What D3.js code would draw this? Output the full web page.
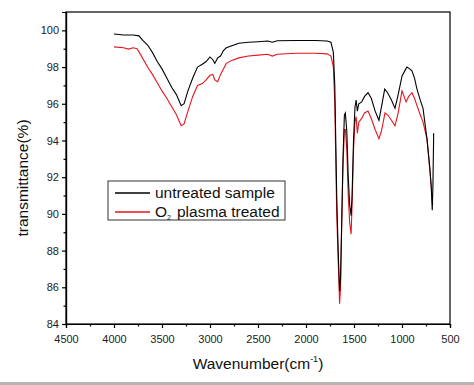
<!DOCTYPE html>
<html>
<head>
<meta charset="utf-8">
<script src="https://cdn.jsdelivr.net/npm/d3@7"></script>
<style>
body { margin: 0; background: #fff; }
svg { display: block; font-family: "Liberation Sans", Arial, sans-serif; }
</style>
</head>
<body>
<svg width="474" height="385"></svg>
<script>
// wavenumbers (cm-1) and transmittance (%)
var wUntreated = [4000,3900,3800,3740,3700,3650,3600,3550,3500,3450,3400,3350,3300,3270,3230,3180,3130,3080,3040,3000,2970,2950,2920,2890,2860,2830,2780,2700,2600,2500,2400,2350,2300,2100,1900,1780,1740,1715,1700,1690,1680,1665,1650,1640,1630,1615,1600,1590,1575,1560,1545,1530,1520,1505,1490,1478,1465,1450,1420,1390,1354,1320,1280,1240,1215,1180,1150,1110,1073,1040,1000,960,948,920,896,870,844,810,781,740,710,695,685,678,670];
var tUntreated = [99.8,99.75,99.75,99.7,99.45,99.2,98.8,98.3,97.9,97.4,96.9,96.5,95.9,96.0,96.7,97.4,98.0,98.15,98.3,98.55,98.4,98.2,98.5,98.6,98.9,99.05,99.15,99.3,99.35,99.38,99.42,99.35,99.43,99.45,99.45,99.42,99.35,98.8,97,94,91,88,85.8,86.5,89,93,95.4,95.5,94.5,92,90.5,89.9,91,94,95.8,96.2,95.6,96.0,96.1,96.4,96.6,96.3,95.6,95.1,95.8,96.8,96.6,96.2,95.75,96.5,97.5,97.9,98.0,97.9,97.8,97.4,96.8,96.2,95.75,94.1,92.5,91.4,90.2,91.5,94.4];

var wTreated = [4000,3900,3850,3800,3760,3720,3650,3600,3550,3500,3450,3400,3350,3300,3270,3230,3180,3130,3080,3040,3000,2970,2950,2920,2890,2860,2830,2780,2700,2600,2500,2400,2350,2300,2100,1900,1780,1740,1715,1700,1690,1680,1665,1650,1640,1630,1615,1600,1590,1575,1560,1545,1530,1520,1505,1490,1478,1465,1450,1420,1390,1354,1320,1280,1240,1215,1177,1150,1110,1073,1040,1000,958,930,896,870,844,810,781,740,710,695,685,680];
var tTreated = [99.1,99.05,98.98,99.05,99.0,98.65,98.0,97.6,97.15,96.7,96.3,95.85,95.4,94.8,94.9,95.6,96.4,97.0,97.1,97.3,97.55,97.6,97.3,97.2,97.6,97.9,98.2,98.35,98.5,98.6,98.65,98.7,98.6,98.7,98.75,98.75,98.72,98.6,98.0,96,93,90,87.5,85.1,86,89,92.5,94.6,94.6,93.5,91,89.5,88.9,90.5,93.5,95.0,95.3,94.4,95.0,95.2,95.5,95.6,95.2,94.6,94.1,94.5,95.5,95.4,95.1,94.8,95.5,96.7,96.1,96.4,96.6,96.3,95.9,95.4,95.0,94.1,92.4,91.5,90.8,90.5];

var xTicks = [4500,4000,3500,3000,2500,2000,1500,1000,500];
var yTicks = [84,86,88,90,92,94,96,98,100];
var seriesNames = ["untreated sample", "plasma treated"];
var seriesColors = ["#000000", "#e8141c"];

var svg = d3.select('svg');
var pLeft = 66, pRight = 450, pTop = 12, pBottom = 324;

var x = d3.scaleLinear().domain([4500, 500]).range([pLeft, pRight]);
var y = d3.scaleLinear().domain([84, 101]).range([pBottom, pTop]);

// bottom grey strip of the image
svg.append('rect').attr('x', 0).attr('y', 382).attr('width', 474).attr('height', 3).attr('fill', '#b4b4b4');

// frame
svg.append('rect').attr('x', pLeft).attr('y', pTop).attr('width', pRight - pLeft).attr('height', pBottom - pTop)
  .attr('fill', 'none').attr('stroke', '#000').attr('stroke-width', 1.2);

// axes
var xAxis = svg.append('g').attr('transform', 'translate(0,' + pBottom + ')')
  .call(d3.axisBottom(x).tickValues(xTicks).tickSize(4).tickFormat(d3.format('d')));
svg.append('g').attr('transform', 'translate(0,' + pBottom + ')')
  .call(d3.axisBottom(x).tickValues(d3.range(4250, 500, -500)).tickSize(2.5).tickFormat(''));
var yAxis = svg.append('g').attr('transform', 'translate(' + pLeft + ',0)')
  .call(d3.axisLeft(y).tickValues(yTicks).tickSize(4));
svg.append('g').attr('transform', 'translate(' + pLeft + ',0)')
  .call(d3.axisLeft(y).tickValues(d3.range(85, 101, 2)).tickSize(2.5).tickFormat(''));

svg.selectAll('.domain').attr('stroke-width', 1.2);
svg.selectAll('.tick line').attr('stroke-width', 1.2);
svg.selectAll('.tick text').attr('font-size', 11).attr('fill', '#222').attr('font-family', '"Liberation Sans", Arial, sans-serif');
xAxis.selectAll('.tick text').attr('dy', '1.05em');

// axis titles
var xt = svg.append('text').attr('x', 258).attr('y', 369).attr('text-anchor', 'middle')
  .attr('font-size', 15.5).attr('fill', '#111');
xt.append('tspan').text('Wavenumber(cm');
xt.append('tspan').attr('font-size', 9).attr('dy', -7).text('-1');
xt.append('tspan').attr('dy', 7).text(')');

svg.append('text').attr('transform', 'translate(28,178) rotate(-90)').attr('text-anchor', 'middle')
  .attr('font-size', 15.5).attr('fill', '#111').text('transmittance(%)');

// curves
var line = d3.line().x(function (d) { return x(d[0]); }).y(function (d) { return y(d[1]); });
var red = d3.zip(wTreated, tTreated);
var blk = d3.zip(wUntreated, tUntreated);
svg.append('path').datum(red).attr('d', line).attr('fill', 'none').attr('stroke', seriesColors[1]).attr('stroke-width', 1.1);
svg.append('path').datum(blk).attr('d', line).attr('fill', 'none').attr('stroke', seriesColors[0]).attr('stroke-width', 1.1);

// legend
var lg = svg.append('g');
lg.append('rect').attr('x', 108).attr('y', 181).attr('width', 177).attr('height', 39)
  .attr('fill', '#fff').attr('stroke', '#333').attr('stroke-width', 1);
lg.append('line').attr('x1', 115).attr('x2', 150).attr('y1', 193).attr('y2', 193).attr('stroke', seriesColors[0]).attr('stroke-width', 1.3);
lg.append('line').attr('x1', 115).attr('x2', 150).attr('y1', 212).attr('y2', 212).attr('stroke', seriesColors[1]).attr('stroke-width', 1.3);
lg.append('text').attr('x', 155).attr('y', 198).attr('font-size', 15.5).attr('fill', '#111').text(seriesNames[0]);
var t2 = lg.append('text').attr('x', 155).attr('y', 217).attr('font-size', 15.5).attr('fill', '#111');
t2.append('tspan').text('O');
t2.append('tspan').attr('font-size', 7).attr('dy', 3).text('2');
t2.append('tspan').attr('dy', -3).attr('dx', 6).text(seriesNames[1]);
</script>
</body>
</html>
